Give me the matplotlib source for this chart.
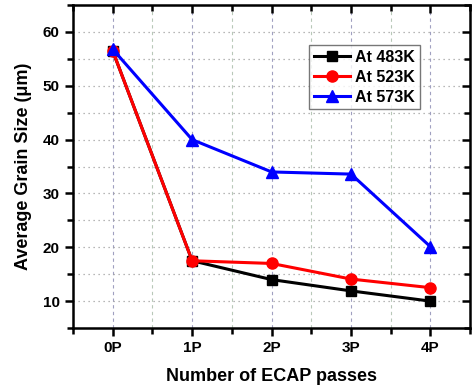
import numpy as np
import matplotlib
matplotlib.use('Agg')
import matplotlib.pyplot as plt
from matplotlib.ticker import MultipleLocator

plt.rcParams['font.family'] = ['Liberation Sans', 'DejaVu Sans']
plt.rcParams['font.weight'] = 'bold'

# Data
passes = ['0P', '1P', '2P', '3P', '4P']
grain_483 = [56.5, 17.5, 14.0, 11.9, 10.0]
grain_523 = [56.5, 17.5, 17.0, 14.1, 12.5]
grain_573 = [56.8, 40.0, 34.0, 33.6, 20.1]

x = np.arange(len(passes))

fig = plt.figure(figsize=(4.74, 3.91), dpi=100)
ax = fig.add_axes([0.154, 0.161, 0.838, 0.826])

ax.plot(x, grain_483, '-s', color='black', lw=2.2, ms=7, label='At 483K')
ax.plot(x, grain_523, '-o', color='red', lw=2.2, ms=8, label='At 523K')
ax.plot(x, grain_573, '-^', color='blue', lw=2.2, ms=8, label='At 573K')

ax.set_xlim(-0.5, 4.5)
ax.set_ylim(5, 65)
ax.set_xticks(x)
ax.set_xticklabels(passes)
ax.xaxis.set_minor_locator(MultipleLocator(0.5))
ax.yaxis.set_minor_locator(MultipleLocator(5))
ax.set_yticks([10, 20, 30, 40, 50, 60])

# Gridlines (dotted, light)
ax.grid(True, which='major', axis='x', ls=(0, (3, 3)), color='#a0a0c0', lw=0.8)
ax.grid(True, which='minor', axis='x', ls=(0, (3, 3)), color='#b8c8b8', lw=0.8)
ax.grid(True, which='both', axis='y', ls=(0, (1, 3)), color='#a0a0a0', lw=0.9)
ax.set_axisbelow(True)

for s in ax.spines.values():
    s.set_linewidth(1.8)

ax.tick_params(axis='both', which='major', length=6, width=1.8, labelsize=11)
ax.tick_params(axis='both', which='minor', length=4, width=1.8)
ax.tick_params(axis='x', which='both', top=True, direction='out')
ax.tick_params(axis='y', which='both', right=True, direction='out')
# inward ticks on the top and right edges
for t in ax.xaxis.get_major_ticks() + ax.xaxis.get_minor_ticks():
    t.tick2line.set_marker(3)
for t in ax.yaxis.get_major_ticks() + ax.yaxis.get_minor_ticks():
    t.tick2line.set_marker(0)

ax.set_xlabel('Number of ECAP passes', fontsize=13, fontweight='bold', labelpad=9)
ax.set_ylabel('Average Grain Size (\u03bcm)', fontsize=13, fontweight='bold', labelpad=8)

leg = ax.legend(loc='upper left', bbox_to_anchor=(0.594, 0.876), fontsize=11.5,
                frameon=True, fancybox=False, edgecolor='#555555',
                handlelength=2.3, handletextpad=0.3, borderpad=0.3,
                labelspacing=0.3, borderaxespad=0)
leg.get_frame().set_linewidth(1.0)

fig.savefig('out.png', dpi=100)
